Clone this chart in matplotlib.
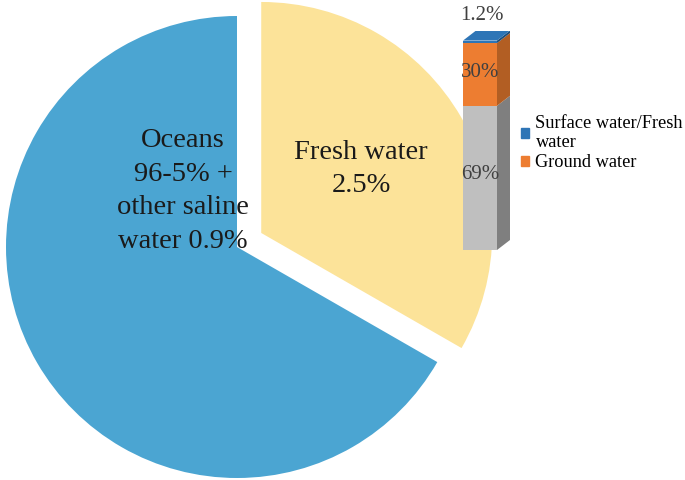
import matplotlib.pyplot as plt
from matplotlib.patches import Polygon, Patch

plt.rcParams['font.family'] = ['Liberation Serif', 'DejaVu Serif']

# pie data (share of the drawn circle)
pie_labels = ['Fresh water\n2.5%', 'Oceans\n96-5% +\nother saline\nwater 0.9%']
pie_values = [33.3, 66.7]
pie_colors = ['#FCE399', '#4BA5D2']

# stacked fresh water bar
bar_names = ['Other', 'Ground water', 'Surface water/Fresh\nwater']
bar_values = [69, 30, 1.2]
bar_text = ['69%', '30%', '1.2%']
bar_front = ['#BFBFBF', '#ED7D31', '#2E75B6']
bar_side = ['#7F7F7F', '#B25E23', '#1F4E79']

fig = plt.figure(figsize=(6.85, 4.8), dpi=100)
ax = fig.add_axes([0, 0, 1, 1])
ax.pie(pie_values, colors=pie_colors, startangle=90, counterclock=False,
       explode=[28, 0], radius=231, center=(237, 233))
ax.set_xlim(0, 685)
ax.set_ylim(0, 480)
ax.set_aspect('equal')
ax.axis('off')
ax.text(361, 311, pie_labels[0], ha='center', va='center', fontsize=20.5,
        color='#1a1a1a', linespacing=1.47)
ax.text(183, 289, pie_labels[1], ha='center', va='center', fontsize=20.5,
        color='#1a1a1a', linespacing=1.47)

# bar axes
bx = fig.add_axes([463 / 685, 230 / 480, 47 / 685, 219 / 480])
dx = 13 / 34
dy = 10 / 209 * 100
bx.set_xlim(0, 1 + dx)
bx.set_ylim(0, 100 * 219 / 209)
bx.axis('off')
bottom = 0
for v, cf, cs in zip(bar_values, bar_front, bar_side):
    bx.bar(0.5, v, width=1, bottom=bottom, color=cf, linewidth=0)
    bx.add_patch(Polygon([(1, bottom), (1 + dx, bottom + dy),
                          (1 + dx, bottom + v + dy), (1, bottom + v)],
                         closed=True, color=cs, linewidth=0))
    bottom += v
bx.add_patch(Polygon([(0, bottom), (dx, bottom + dy), (1 + dx, bottom + dy),
                      (1, bottom)], closed=True, color=bar_front[2], linewidth=0))

bx.text(0.5, bar_values[0] / 2 + 1.5, bar_text[0], ha='center', va='center',
        fontsize=15, color='#404040', clip_on=False)
bx.text(0.5, bar_values[0] + bar_values[1] / 2 + 1, bar_text[1], ha='center',
        va='center', fontsize=15, color='#404040', clip_on=False)
ax.text(482, 464, bar_text[2], ha='center', va='center', fontsize=15,
        color='#404040')

handles = [Patch(color=bar_front[2]), Patch(color=bar_front[1])]
fig.legend(handles, [bar_names[2], bar_names[1]], loc='upper left',
           bbox_to_anchor=(508 / 685, 1 - 102 / 480), frameon=False,
           fontsize=13.2, handlelength=0.45, handleheight=0.45,
           handletextpad=0.35, labelspacing=0.15, borderpad=0.2)

fig.savefig('out.png', dpi=100)
